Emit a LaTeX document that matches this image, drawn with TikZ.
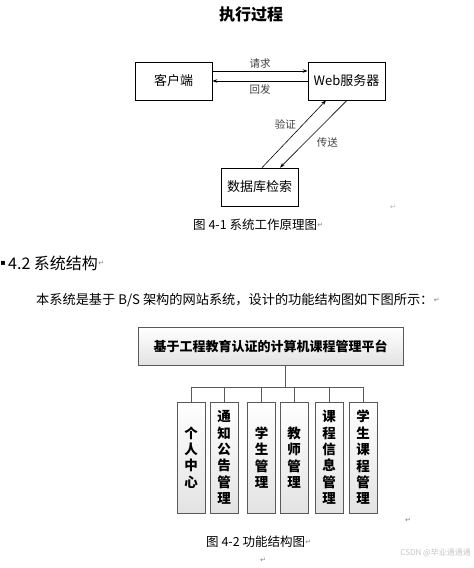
\documentclass[tikz,border=0pt]{standalone}
\usepackage{fontspec}
\newfontfamily\cjk{Noto Sans CJK SC}
\newfontfamily\sym{DejaVu Sans}
\usetikzlibrary{arrows.meta}
\begin{document}
\begin{tikzpicture}[x=1pt,y=-1pt,
  boxone/.style={draw=black, line width=0.7pt, minimum width=77pt, minimum height=38pt, inner sep=0pt, font=\cjk\fontsize{13}{15}\selectfont},
  conn/.style={line width=0.6pt, -{Stealth[length=5pt,width=3.5pt]}},
  lbl/.style={font=\cjk\fontsize{10.5}{12}\selectfont, text=black!75, inner sep=1pt},
  fbox/.style={draw=gray!70!black, line width=0.6pt, top color=white, bottom color=gray!22, inner sep=0pt},
  vbox/.style={fbox, minimum width=28pt, minimum height=111pt, align=center, font=\cjk\bfseries\fontsize{13.5}{16.4}\selectfont},
  tree/.style={draw=gray!70!black, line width=0.7pt},
  ret/.style={font=\sym\fontsize{7}{8}\selectfont, text=gray, inner sep=0pt}
]
\useasboundingbox (0,0) rectangle (474,568);
\fill[white] (0,0) rectangle (474,568);

\node[font=\cjk\bfseries\fontsize{16}{18}\selectfont] (title) at (251,14) {执行过程};

\node[boxone] (client) at (173.5,81) {客户端};
\node[boxone] (web) at (346.5,81) {Web服务器};
\node[boxone] (db) at (259.5,187) {数据库检索};

\draw[conn] ([yshift=10pt]client.east) -- node[lbl, above=1pt] {请求} ([yshift=10pt]web.west);
\draw[conn] (web.west) -- node[lbl, below=2pt] {回发} (client.east);
\draw[conn] ([xshift=2.5pt]db.north) -- node[lbl, pos=0.55, anchor=south east] {验证} ([xshift=-20.5pt]web.south);
\draw[conn] ([xshift=0.5pt]web.south) -- node[lbl, pos=0.5, anchor=north west, inner sep=3pt] {传送} ([xshift=20.5pt]db.north);

\node[font=\cjk\fontsize{12.5}{14}\selectfont, anchor=west, inner sep=0pt] (cap1) at (193,225) {图 4-1 系统工作原理图};
\node[ret, anchor=west] (r1) at (cap1.east) {↵};
\node[ret, text=gray!60] (r0) at (393,207) {↵};

\node[font=\sym\fontsize{8}{9}\selectfont, inner sep=0pt] (bullet) at (3,263) {▪};
\node[anchor=west, font=\cjk\fontsize{16}{18}\selectfont, inner sep=0pt] (head) at (8,263) {4.2 系统结构};
\node[ret, anchor=west] (r2) at (head.east) {↵};

\node[anchor=west, font=\cjk\fontsize{13.2}{15}\selectfont, inner sep=0pt] (body) at (36,300) {本系统是基于 B/S 架构的网站系统，设计的功能结构图如下图所示：};
\node[ret, anchor=west] (r3) at (body.east) {↵};

\node[fbox, minimum width=265pt, minimum height=38pt, font=\cjk\bfseries\fontsize{13}{15}\selectfont] (root) at (270.5,346) {基于工程教育认证的计算机课程管理平台};

\node[vbox] (c1) at (191,457.5) {个\\人\\中\\心};
\node[vbox] (c2) at (224,457.5) {通\\知\\公\\告\\管\\理};
\node[vbox] (c3) at (261.5,457.5) {学\\生\\管\\理};
\node[vbox] (c4) at (294,457.5) {教\\师\\管\\理};
\node[vbox] (c5) at (329,457.5) {课\\程\\信\\息\\管\\理};
\node[vbox] (c6) at (363,457.5) {学\\生\\课\\程\\管\\理};

\coordinate (bus) at (285,387);
\draw[tree] (root.south -| bus) -- (bus);
\draw[tree] (c1.north |- bus) -- (c6.north |- bus);
\foreach \i in {1,...,6} \draw[tree] (c\i.north |- bus) -- (c\i.north);

\node[font=\cjk\fontsize{12.5}{14}\selectfont, anchor=west, inner sep=0pt] (cap2) at (206,542) {图 4-2 功能结构图};
\node[ret, anchor=west] (r4) at (cap2.east) {↵};
\node[ret] (r5) at (408,520) {↵};
\node[ret] (r6) at (263,560) {↵};
\node[anchor=east, font=\cjk\fontsize{8}{9}\selectfont, text=gray!45, inner sep=0pt] (wm) at (471,553) {CSDN @毕业通通通};
\end{tikzpicture}
\end{document}
